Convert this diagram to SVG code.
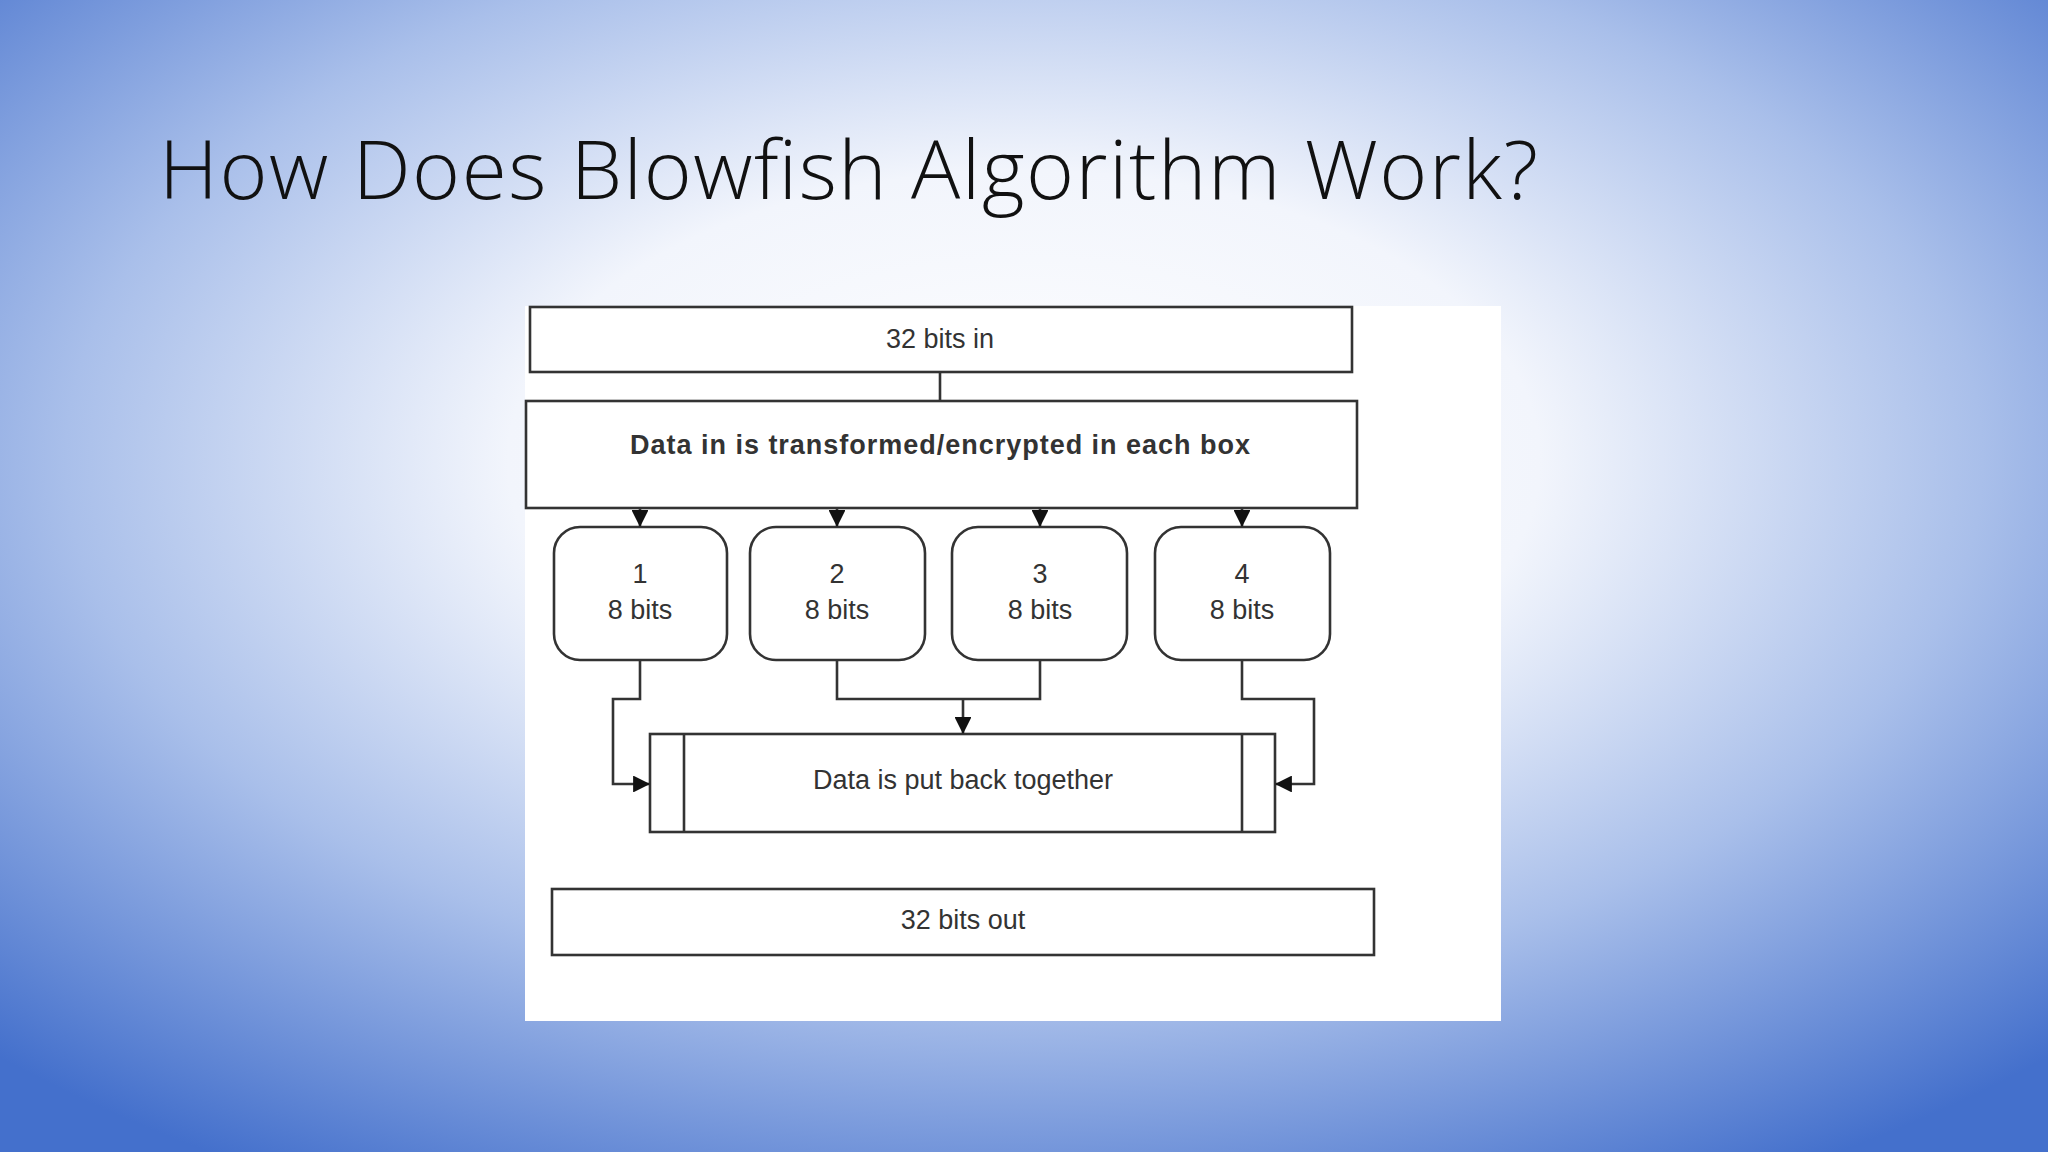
<svg xmlns="http://www.w3.org/2000/svg" width="2048" height="1152" viewBox="0 0 2048 1152">
<defs>
<radialGradient id="bg" cx="50%" cy="40%" r="72%">
<stop offset="0" stop-color="#ffffff"/>
<stop offset="0.35" stop-color="#f2f5fc"/>
<stop offset="0.65" stop-color="#a9bfea"/>
<stop offset="1" stop-color="#4470cc"/>
</radialGradient>
<marker id="ah" viewBox="0 0 10 10" refX="10" refY="5" markerWidth="6.5" markerHeight="6.5" orient="auto"><path d="M0,0 L10,5 L0,10 Z" fill="#111"/></marker>
<style>
.b{fill:#fff;stroke:#333;stroke-width:2.6}
.l{fill:none;stroke:#333;stroke-width:2.6}
.t{font-family:"Liberation Sans",Arial,sans-serif;font-size:27px;fill:#333;text-anchor:middle}
</style>
</defs>
<rect width="2048" height="1152" fill="url(#bg)"/>
<text x="159" y="199" font-family="'Open Sans','Liberation Sans',sans-serif" font-weight="300" font-size="82" fill="#111" textLength="1379">How Does Blowfish Algorithm Work?</text>
<rect x="525" y="306" width="976" height="715" fill="#fff"/>
<g id="in"><rect class="b" x="530" y="307" width="822" height="65"/><text class="t" x="940" y="348">32 bits in</text></g>
<g id="transform"><rect class="b" x="526" y="401" width="831" height="107"/><text class="t" x="940" y="454" font-weight="bold" fill="#222" textLength="620">Data in is transformed/encrypted in each box</text></g>
<g id="b1"><rect class="b" x="554" y="527" width="173" height="133" rx="26"/><text class="t" x="640" y="583">1</text><text class="t" x="640" y="619">8 bits</text></g>
<g id="b2"><rect class="b" x="750" y="527" width="175" height="133" rx="26"/><text class="t" x="837" y="583">2</text><text class="t" x="837" y="619">8 bits</text></g>
<g id="b3"><rect class="b" x="952" y="527" width="175" height="133" rx="26"/><text class="t" x="1040" y="583">3</text><text class="t" x="1040" y="619">8 bits</text></g>
<g id="b4"><rect class="b" x="1155" y="527" width="175" height="133" rx="26"/><text class="t" x="1242" y="583">4</text><text class="t" x="1242" y="619">8 bits</text></g>
<g id="together"><rect class="b" x="650" y="734" width="625" height="98"/><line class="l" x1="684" y1="734" x2="684" y2="832"/><line class="l" x1="1242" y1="734" x2="1242" y2="832"/><text class="t" x="963" y="789">Data is put back together</text></g>
<g id="out"><rect class="b" x="552" y="889" width="822" height="66"/><text class="t" x="963" y="929">32 bits out</text></g>
<g id="connectors">
<line class="l" x1="940" y1="372" x2="940" y2="401"/>
<line class="l" x1="640" y1="508" x2="640" y2="527" marker-end="url(#ah)"/>
<line class="l" x1="837" y1="508" x2="837" y2="527" marker-end="url(#ah)"/>
<line class="l" x1="1040" y1="508" x2="1040" y2="527" marker-end="url(#ah)"/>
<line class="l" x1="1242" y1="508" x2="1242" y2="527" marker-end="url(#ah)"/>
<polyline class="l" points="640,660 640,699 613,699 613,784 650,784" marker-end="url(#ah)"/>
<polyline class="l" points="837,660 837,699 1040,699 1040,660"/>
<line class="l" x1="963" y1="699" x2="963" y2="734" marker-end="url(#ah)"/>
<polyline class="l" points="1242,660 1242,699 1314,699 1314,784 1275,784" marker-end="url(#ah)"/>
</g>
</svg>
